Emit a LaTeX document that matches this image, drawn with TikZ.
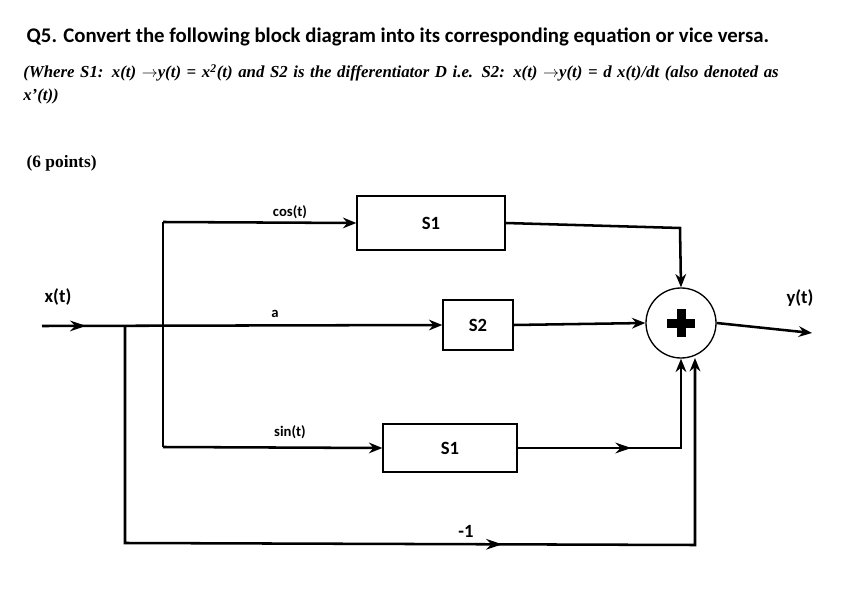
\documentclass[tikz,border=0pt]{standalone}
\usepackage{fontspec}
\setmainfont{Liberation Serif}
\newfontfamily\calfont{Carlito}
\usetikzlibrary{arrows.meta,decorations.markings}
\tikzset{
 wire/.style={line width=1.9pt},
 blk/.style={draw,line width=1pt,minimum width=#1,inner sep=0pt},
 lbl/.style={font=\calfont\bfseries\fontsize{11}{13}\selectfont},
 big/.style={font=\calfont\bfseries\fontsize{14}{16}\selectfont},
 mk/.style={postaction={decorate},decoration={markings,mark=at position #1 with {\arrow{Stealth[length=12pt,width=8pt]}}}},
 tip/.style={-{Stealth[length=10pt,width=8pt]}}
}
\begin{document}
\begin{tikzpicture}[x=0.75pt,y=-0.75pt]
\useasboundingbox (0,0) rectangle (868,613);
\node[anchor=west,font=\calfont\bfseries\fontsize{15.6}{18}\selectfont] (title) at (22,37) {Q5. Convert the following block diagram into its corresponding equation or vice versa.};
\node[anchor=north west,align=left,text width=790*0.75pt,font=\bfseries\itshape\fontsize{12.6}{17}\selectfont,inner sep=0pt] (sub) at (23,64) {(Where S1: x(t) $\rightarrow$y(t) = x\textsuperscript{2}(t) and S2 is the differentiator D i.e. S2: x(t) $\rightarrow$y(t) = d x(t)/dt (also denoted as x'(t))};
\node[anchor=west,font=\bfseries\fontsize{13}{15}\selectfont] (pts) at (22,163) {(6 points)};
% blocks
\node[blk=148*0.75pt,minimum height=54*0.75pt,big] (s1a) at (431,223) {S1};
\node[blk=70*0.75pt,minimum height=50*0.75pt,big] (s2) at (478,325) {S2};
\node[blk=134*0.75pt,minimum height=48*0.75pt,big] (s1b) at (450,448) {S1};
\node[draw,circle,line width=1pt,minimum size=70*0.75pt,inner sep=0pt] (sum) at (681,323) {};
\fill (sum.center) ++(-4.5,-14) rectangle ++(9,28);
\fill (sum.center) ++(-14,-4.5) rectangle ++(28,9);
% coordinates
\coordinate (in) at (42,326);
\coordinate (j1) at (125,326);
\coordinate (tl) at (163,222);
\coordinate (bl) at (163,447);
\coordinate (out) at (812,333);
% labels
\node[big] (xt) at (58,297) {x(t)};
\node[big] (yt) at (800,298) {y(t)};
\node[lbl] (lc) at (290,212) {cos(t)};
\node[lbl] (la) at (275,314) {a};
\node[lbl] (ls) at (290,432) {sin(t)};
\node[big] (lm) at (466,531) {-1};
% wires
\draw[wire,mk=0.11,tip] (in) -- (s2.west);
\draw[wire] (tl) -- (bl);
\draw[wire,tip] (tl) -- (s1a.west);
\draw[wire,tip] (bl) -- (s1b.west);
\draw[wire,tip] (s2.east) -- (sum.west);
\draw[wire,tip] (s1a.east) -- (680,228) -- (sum.north);
\draw[wire,mk=0.45,tip] (s1b.east) -- (sum.south |- s1b.east) -- (sum.south);
\draw[wire,tip,mk=0.61] (j1) -- (125,543) -- (695,545) -- (695,358);
\draw[wire,tip] (sum.east) -- (out);
\end{tikzpicture}
\end{document}
